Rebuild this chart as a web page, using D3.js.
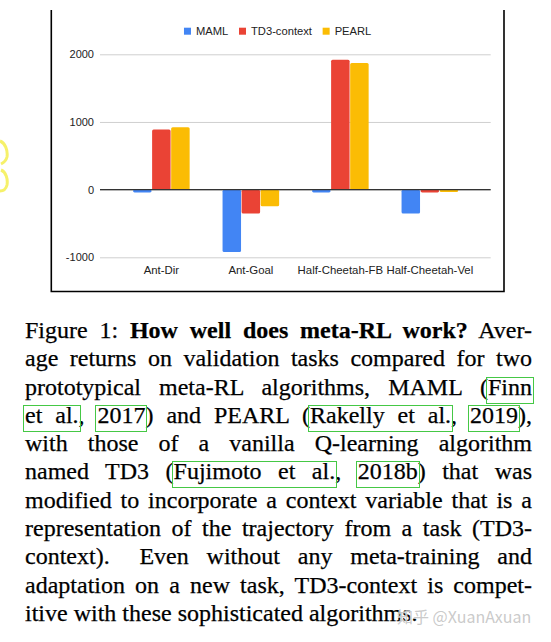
<!DOCTYPE html>
<html>
<head>
<meta charset="utf-8">
<script src="https://cdn.jsdelivr.net/npm/d3@7"></script>
<style>
    body { margin: 0; background: #fff; width: 551px; height: 642px; overflow: hidden; position: relative; }
    #chart, #overlay { position: absolute; left: 0; top: 0; }
    #overlay { pointer-events: none; }
    #caption {
        position: absolute; left: 25px; top: 316px; width: 507px;
        font-family: "Liberation Serif", "Times New Roman", serif;
        font-size: 24px; line-height: 28.3px; color: #000;
        -webkit-text-stroke: 0.25px #000;
    }
    #caption .ln { text-align: justify; text-align-last: justify; white-space: nowrap; }
    #caption .ln.last { text-align-last: left; }
    .cite { position: relative; }
    .cite::after {
        content: ""; position: absolute; left: -2px; right: -2px; top: 3px; bottom: -4px;
        border: 1px solid #45c845;
    }
</style>
</head>
<body>
<svg id="chart" width="551" height="300"></svg>
<div id="caption"></div>
<svg id="overlay" width="551" height="642"></svg>
<script>
const categories = ["Ant-Dir", "Ant-Goal", "Half-Cheetah-FB", "Half-Cheetah-Vel"];
const seriesNames = ["MAML", "TD3-context", "PEARL"];
const mamlValues = [-44, -920, -44, -353];
const td3Values = [887, -352, 1918, -44];
const pearlValues = [921, -247, 1871, -35];
const yTicks = [-1000, 0, 1000, 2000];
const colors = ["#4285f4", "#ea4335", "#fbbc04"];

// caption, one entry per printed line; **bold**, [citation box]
const captionLines = [
    "Figure 1: **How well does meta-RL work?** Aver-",
    "age returns on validation tasks compared for two",
    "prototypical meta-RL algorithms, MAML ([Finn]",
    "[et al.], [2017]) and PEARL ([Rakelly et al.], [2019]),",
    "with those of a vanilla Q-learning algorithm",
    "named TD3 ([Fujimoto et al.], [2018b]) that was",
    "modified to incorporate a context variable that is a",
    "representation of the trajectory from a task (TD3-",
    "context).\u2002 Even without any meta-training and",
    "adaptation on a new task, TD3-context is compet-",
    "itive with these sophisticated algorithms."
];
const watermark = "知乎 @XuanAxuan";

const series = [mamlValues, td3Values, pearlValues];
const font = 'Arial, "Liberation Sans", sans-serif';

const svg = d3.select("#chart");

const plot = { left: 100, right: 490.7, top: 54.3, bottom: 257.3 };
const frame = { left: 51.3, right: 504, top: 10, bottom: 291.5 };

const y = d3.scaleLinear().domain([-1000, 2000]).range([plot.bottom, plot.top]);
const x0 = d3.scaleBand().domain(categories).range([116.6, 474.6])
    .paddingInner(0.355).paddingOuter(0.1775);
const x1 = d3.scaleBand().domain(seriesNames).range([0, x0.bandwidth()]).padding(0.03);

// grid + tick labels
const yAxis = svg.append("g")
    .attr("transform", `translate(${plot.left},0)`)
    .call(d3.axisLeft(y).tickValues(yTicks).tickFormat(d => String(d))
        .tickSize(-(plot.right - plot.left)).tickPadding(6));
yAxis.select(".domain").remove();
yAxis.selectAll(".tick line").attr("stroke", "#cfcfcf");
yAxis.selectAll(".tick text").attr("font-family", font).attr("font-size", 11).attr("fill", "#222");

// bars
const groups = svg.selectAll(".grp")
    .data(categories)
    .enter().append("g")
    .attr("class", "grp")
    .attr("transform", d => `translate(${x0(d)},0)`);

groups.selectAll("rect")
    .data((c, i) => seriesNames.map((s, j) => ({ s, v: series[j][i], color: colors[j] })))
    .enter().append("rect")
    .attr("x", d => x1(d.s))
    .attr("width", x1.bandwidth())
    .attr("y", d => y(Math.max(0, d.v)))
    .attr("height", d => Math.abs(y(d.v) - y(0)))
    .attr("rx", 1.5)
    .attr("fill", d => d.color);

// zero line
svg.append("line")
    .attr("x1", plot.left).attr("x2", plot.right)
    .attr("y1", y(0)).attr("y2", y(0))
    .attr("stroke", "#333").attr("stroke-width", 1.1);

// category labels
const xAxis = svg.append("g")
    .attr("transform", `translate(0,${plot.bottom})`)
    .call(d3.axisBottom(x0).tickSize(0).tickPadding(8.7));
xAxis.select(".domain").remove();
xAxis.selectAll(".tick text").attr("font-family", font).attr("font-size", 11.4).attr("fill", "#222");

// legend, centred on the frame
const legend = svg.append("g");
const items = legend.selectAll("g")
    .data(seriesNames)
    .enter().append("g");
items.append("rect")
    .attr("y", 27.7).attr("width", 7).attr("height", 7)
    .attr("fill", (d, i) => colors[i]);
items.append("text")
    .attr("x", 12).attr("y", 31.2).attr("dy", "0.35em")
    .attr("font-family", font).attr("font-size", 11.2).attr("fill", "#222")
    .text(d => d);
let widths = [];
items.select("text").each(function() { widths.push(this.getComputedTextLength()); });
const gap = 10.7;
const total = d3.sum(widths) + 12 * widths.length + gap * (widths.length - 1);
let cx = (frame.left + frame.right) / 2 - total / 2;
items.attr("transform", (d, i) => {
    const t = `translate(${cx},0)`;
    cx += 12 + widths[i] + gap;
    return t;
});

// frame (top edge is cut off in the scan)
svg.append("path")
    .attr("d", `M${frame.left},${frame.top}V${frame.bottom}H${frame.right}V${frame.top}`)
    .attr("fill", "none").attr("stroke", "#000").attr("stroke-width", 1.6);

// caption
const caption = d3.select("#caption");
captionLines.forEach((line, i) => {
    const div = caption.append("div")
        .attr("class", i === captionLines.length - 1 ? "ln last" : "ln");
    const parts = line.split(/(\*\*[^*]+\*\*|\[[^\]]+\])/).filter(p => p.length);
    parts.forEach(p => {
        if (p.startsWith("**")) div.append("b").text(p.slice(2, -2));
        else if (p.startsWith("[")) div.append("span").attr("class", "cite").text(p.slice(1, -1));
        else div.append("span").text(p);
    });
});

// scan leftovers: yellow mark on the left edge and the site watermark
const overlay = d3.select("#overlay");
overlay.append("path")
    .attr("d", "M0,141C5,143 8,150 7,157C6,161 3,163 1,164M1,170C6,172 8,179 7,185C6,189 3,191 0,191")
    .attr("fill", "none").attr("stroke", "#f6f16a").attr("stroke-width", 3);
overlay.append("text")
    .attr("x", 397).attr("y", 623)
    .attr("font-family", '"Noto Sans CJK SC", "Noto Sans", sans-serif')
    .attr("font-size", 16).attr("fill", "#c4c4c4").attr("fill-opacity", 0.9)
    .attr("stroke", "#fff").attr("stroke-width", 0.6).attr("paint-order", "stroke")
    .text(watermark);
</script>
</body>
</html>
